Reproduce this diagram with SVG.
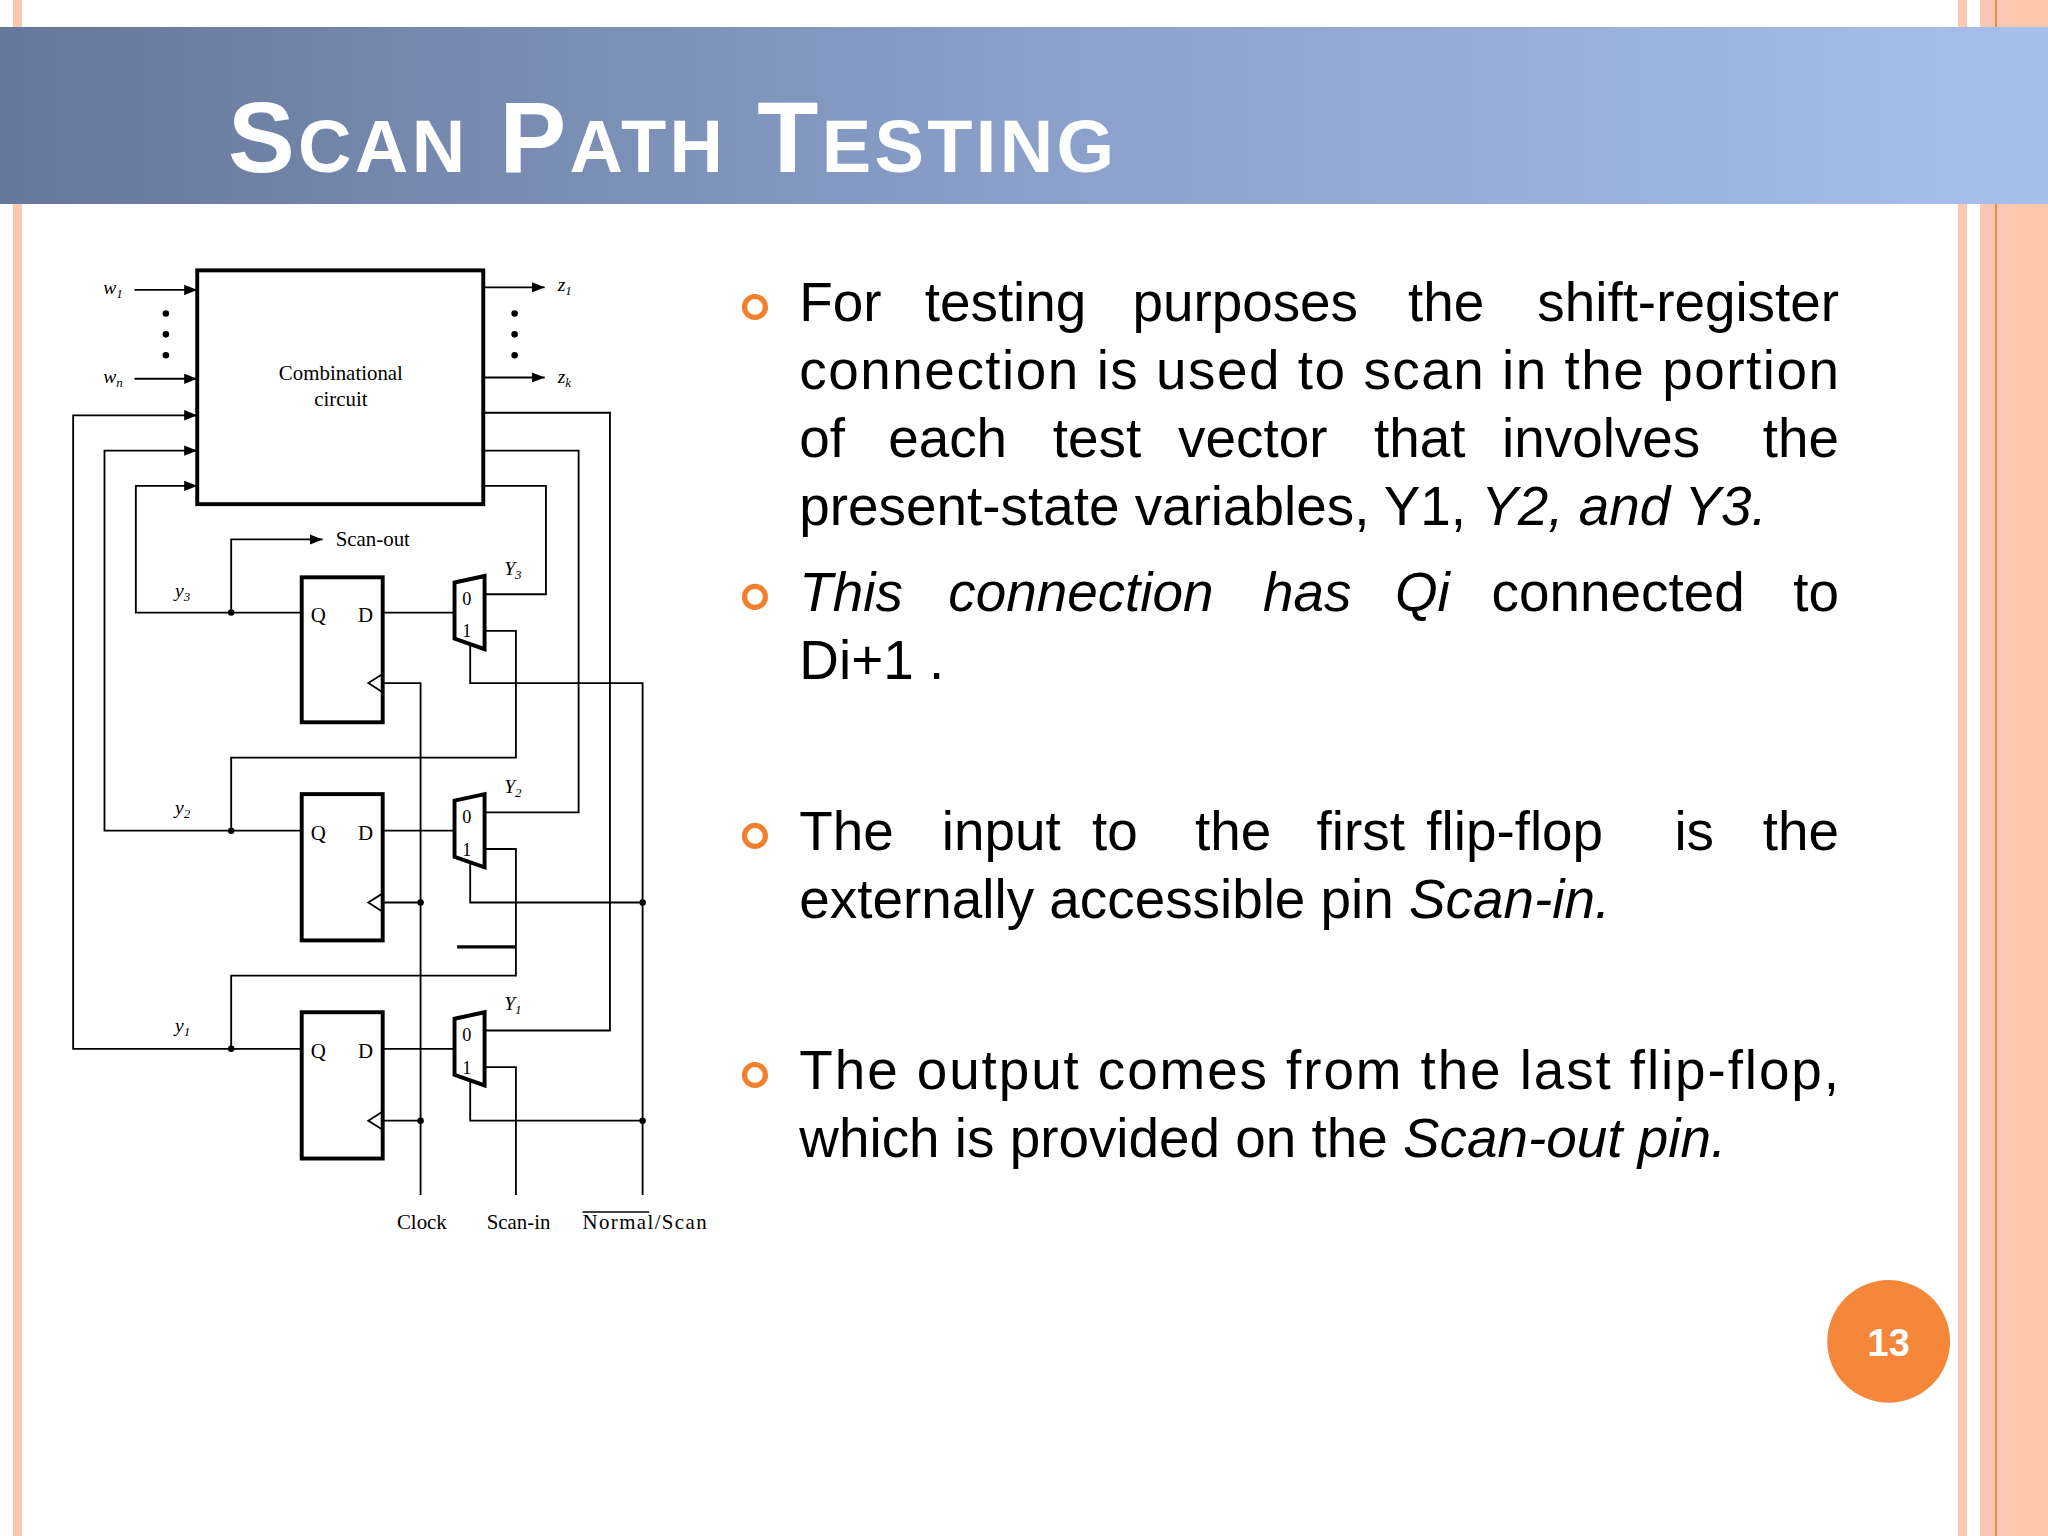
<svg xmlns="http://www.w3.org/2000/svg" width="2048" height="1536" viewBox="0 0 2048 1536">
<defs>
<linearGradient id="hg" x1="0" x2="1" y1="0" y2="0"><stop offset="0" stop-color="#66789a"/><stop offset="0.5" stop-color="#8aa0c9"/><stop offset="1" stop-color="#a8beec"/></linearGradient>
<marker id="ar" markerWidth="10" markerHeight="8" refX="10" refY="4" orient="auto" markerUnits="userSpaceOnUse"><path d="M0,0 L10,4 L0,8 z" fill="#000"/></marker>
<style>
.w{fill:none;stroke:#000;stroke-width:1.4}
.b{fill:none;stroke:#000;stroke-width:3}
.c{font-family:"Liberation Serif",serif;fill:#000}
.t{font-family:"Liberation Sans",Arial,sans-serif;font-size:42px;fill:#000}
.i{font-style:italic}
.e{text-anchor:end}
.bul{fill:none;stroke:#f07f2e;stroke-width:4}
</style>
</defs>
<rect width="2048" height="1536" fill="#fff"/>
<rect x="13" y="0" width="9" height="1536" fill="#fcc8b4"/>
<rect x="1958" y="0" width="9" height="1536" fill="#fcc8b4"/>
<rect x="1980" y="0" width="68" height="1536" fill="#fcc8b4"/>
<rect x="2012" y="0" width="36" height="1536" fill="#fdc6ad"/>
<rect x="1995" y="0" width="2" height="1536" fill="#f08a4a"/>
<rect x="0" y="27" width="2048" height="177" fill="url(#hg)"/>
<text x="228" y="172" textLength="886" lengthAdjust="spacing" font-family="Liberation Sans,Arial,sans-serif" font-weight="bold" fill="#fff" font-size="100">S<tspan font-size="74">CAN</tspan> P<tspan font-size="74">ATH</tspan> T<tspan font-size="74">ESTING</tspan></text>
<g transform="scale(1.30612)">
<g id="comb"><rect class="b" x="151" y="207" width="219" height="179"/><text class="c" x="261" y="291" font-size="16" text-anchor="middle">Combinational</text><text class="c" x="261" y="311" font-size="16" text-anchor="middle">circuit</text></g>
<g id="io" class="c" font-size="15">
<text x="79" y="225" font-style="italic">w<tspan font-size="10" dy="3">1</tspan></text>
<text x="79" y="293" font-style="italic">w<tspan font-size="10" dy="3">n</tspan></text>
<text x="427" y="223" font-style="italic">z<tspan font-size="10" dy="3">1</tspan></text>
<text x="427" y="293" font-style="italic">z<tspan font-size="10" dy="3">k</tspan></text>
<circle cx="127" cy="240" r="2.5"/><circle cx="127" cy="256" r="2.5"/><circle cx="127" cy="272" r="2.5"/>
<circle cx="394" cy="240" r="2.5"/><circle cx="394" cy="256" r="2.5"/><circle cx="394" cy="272" r="2.5"/>
</g>
<g id="ff3"><rect class="b" x="231" y="442" width="62" height="111"/><path class="w" d="M293,516 L282,523 L293,530"/><text class="c" x="238" y="476" font-size="16">Q</text><text class="c" x="274" y="476" font-size="16">D</text></g>
<g id="ff2"><rect class="b" x="231" y="608" width="62" height="112"/><path class="w" d="M293,684 L282,691 L293,698"/><text class="c" x="238" y="643" font-size="16">Q</text><text class="c" x="274" y="643" font-size="16">D</text></g>
<g id="ff1"><rect class="b" x="231" y="775" width="62" height="112"/><path class="w" d="M293,851 L282,858 L293,865"/><text class="c" x="238" y="810" font-size="16">Q</text><text class="c" x="274" y="810" font-size="16">D</text></g>
<g id="mux3"><path class="b" d="M348,446 L371,441 L371,497 L348,489 z" stroke-width="2.5"/><text class="c" x="354" y="463" font-size="14">0</text><text class="c" x="354" y="488" font-size="14">1</text></g>
<g id="mux2"><path class="b" d="M348,613 L371,608 L371,664 L348,656 z" stroke-width="2.5"/><text class="c" x="354" y="630" font-size="14">0</text><text class="c" x="354" y="655" font-size="14">1</text></g>
<g id="mux1"><path class="b" d="M348,780 L371,775 L371,831 L348,823 z" stroke-width="2.5"/><text class="c" x="354" y="797" font-size="14">0</text><text class="c" x="354" y="822" font-size="14">1</text></g>
<g id="labels" class="c" font-size="15">
<text x="134" y="457" font-style="italic">y<tspan font-size="10" dy="3">3</tspan></text>
<text x="134" y="623" font-style="italic">y<tspan font-size="10" dy="3">2</tspan></text>
<text x="134" y="790" font-style="italic">y<tspan font-size="10" dy="3">1</tspan></text>
<text x="386" y="440" font-style="italic">Y<tspan font-size="10" dy="3">3</tspan></text>
<text x="386" y="607" font-style="italic">Y<tspan font-size="10" dy="3">2</tspan></text>
<text x="386" y="773" font-style="italic">Y<tspan font-size="10" dy="3">1</tspan></text>
<text x="257" y="418" font-size="16">Scan-out</text>
<text x="323" y="941" font-size="16" text-anchor="middle">Clock</text>
<text x="397" y="941" font-size="16" text-anchor="middle">Scan-in</text>
<text x="446" y="941" font-size="16" textLength="95" lengthAdjust="spacing">Normal/Scan</text>
<line x1="446" y1="928" x2="497" y2="928" stroke="#000" stroke-width="1.2"/>
</g>
<g id="connectors">
<line class="w" x1="103" y1="222" x2="151" y2="222" marker-end="url(#ar)"/>
<line class="w" x1="103" y1="290" x2="151" y2="290" marker-end="url(#ar)"/>
<line class="w" x1="370" y1="220" x2="417" y2="220" marker-end="url(#ar)"/>
<line class="w" x1="370" y1="289" x2="417" y2="289" marker-end="url(#ar)"/>
<path class="w" d="M231,803 H56 V318 H151" marker-end="url(#ar)"/>
<path class="w" d="M231,636 H80 V345 H151" marker-end="url(#ar)"/>
<path class="w" d="M231,469 H104 V372 H151" marker-end="url(#ar)"/>
<path class="w" d="M177,469 V413 H247" marker-end="url(#ar)"/>
<path class="w" d="M370,316 H467 V789 H371"/>
<path class="w" d="M370,345 H443 V622 H371"/>
<path class="w" d="M370,372 H418 V455 H371"/>
<line class="w" x1="293" y1="469" x2="348" y2="469"/>
<line class="w" x1="293" y1="636" x2="348" y2="636"/>
<line class="w" x1="293" y1="803" x2="348" y2="803"/>
<path class="w" d="M371,483 H395 V580 H177 V636"/>
<path class="w" d="M371,650 H395 V747 H177 V803"/>
<path class="w" d="M371,817 H395 V915"/>
<line x1="350" y1="725" x2="395" y2="725" stroke="#000" stroke-width="2.5"/>
<path class="w" d="M293,523 H322 V915"/>
<line class="w" x1="293" y1="691" x2="322" y2="691"/>
<line class="w" x1="293" y1="858" x2="322" y2="858"/>
<path class="w" d="M360,493 V523 H492 V915"/>
<path class="w" d="M360,660 V691 H492"/>
<path class="w" d="M360,827 V858 H492"/>
<g fill="#000"><circle cx="177" cy="469" r="2.5"/><circle cx="177" cy="636" r="2.5"/><circle cx="177" cy="803" r="2.5"/><circle cx="322" cy="691" r="2.5"/><circle cx="322" cy="858" r="2.5"/><circle cx="492" cy="691" r="2.5"/><circle cx="492" cy="858" r="2.5"/></g>
</g>
<g id="bullets">
<circle class="bul" cx="578" cy="235" r="8"/><circle class="bul" cx="578" cy="457" r="8"/><circle class="bul" cx="578" cy="640" r="8"/><circle class="bul" cx="578" cy="823" r="8"/>
<text class="t" y="246"><tspan x="612">For</tspan><tspan x="708">testing</tspan><tspan x="867">purposes</tspan><tspan x="1078">the</tspan><tspan x="1408" class="e">shift-register</tspan></text>
<text class="t" x="612" y="298" textLength="796" lengthAdjust="spacing">connection is used to scan in the portion</text>
<text class="t" y="350"><tspan x="612">of</tspan><tspan x="680">each</tspan><tspan x="806">test</tspan><tspan x="902">vector</tspan><tspan x="1052">that</tspan><tspan x="1150">involves</tspan><tspan x="1408" class="e">the</tspan></text>
<text class="t" x="612" y="402">present-state variables, Y1, <tspan class="i">Y2, and Y3.</tspan></text>
<text class="t" y="468"><tspan x="612" class="i">This</tspan><tspan x="726" class="i">connection</tspan><tspan x="967" class="i">has</tspan><tspan x="1068" class="i">Qi</tspan><tspan x="1142">connected</tspan><tspan x="1408" class="e">to</tspan></text>
<text class="t" x="612" y="520">Di+1 .</text>
<text class="t" y="651"><tspan x="612">The</tspan><tspan x="721">input</tspan><tspan x="836">to</tspan><tspan x="915">the</tspan><tspan x="1008">first</tspan><tspan x="1092">flip-flop</tspan><tspan x="1282">is</tspan><tspan x="1408" class="e">the</tspan></text>
<text class="t" x="612" y="703">externally accessible pin <tspan class="i">Scan-in.</tspan></text>
<text class="t" x="612" y="834" textLength="796" lengthAdjust="spacing">The output comes from the last flip-flop,</text>
<text class="t" x="612" y="886">which is provided on the <tspan class="i">Scan-out pin.</tspan></text>
</g>
<g id="page"><circle cx="1446" cy="1027" r="47" fill="#f5873a"/><text x="1446" y="1038" text-anchor="middle" font-family="Liberation Sans,Arial,sans-serif" font-weight="bold" font-size="29" fill="#fff">13</text></g>
</g>
</svg>
